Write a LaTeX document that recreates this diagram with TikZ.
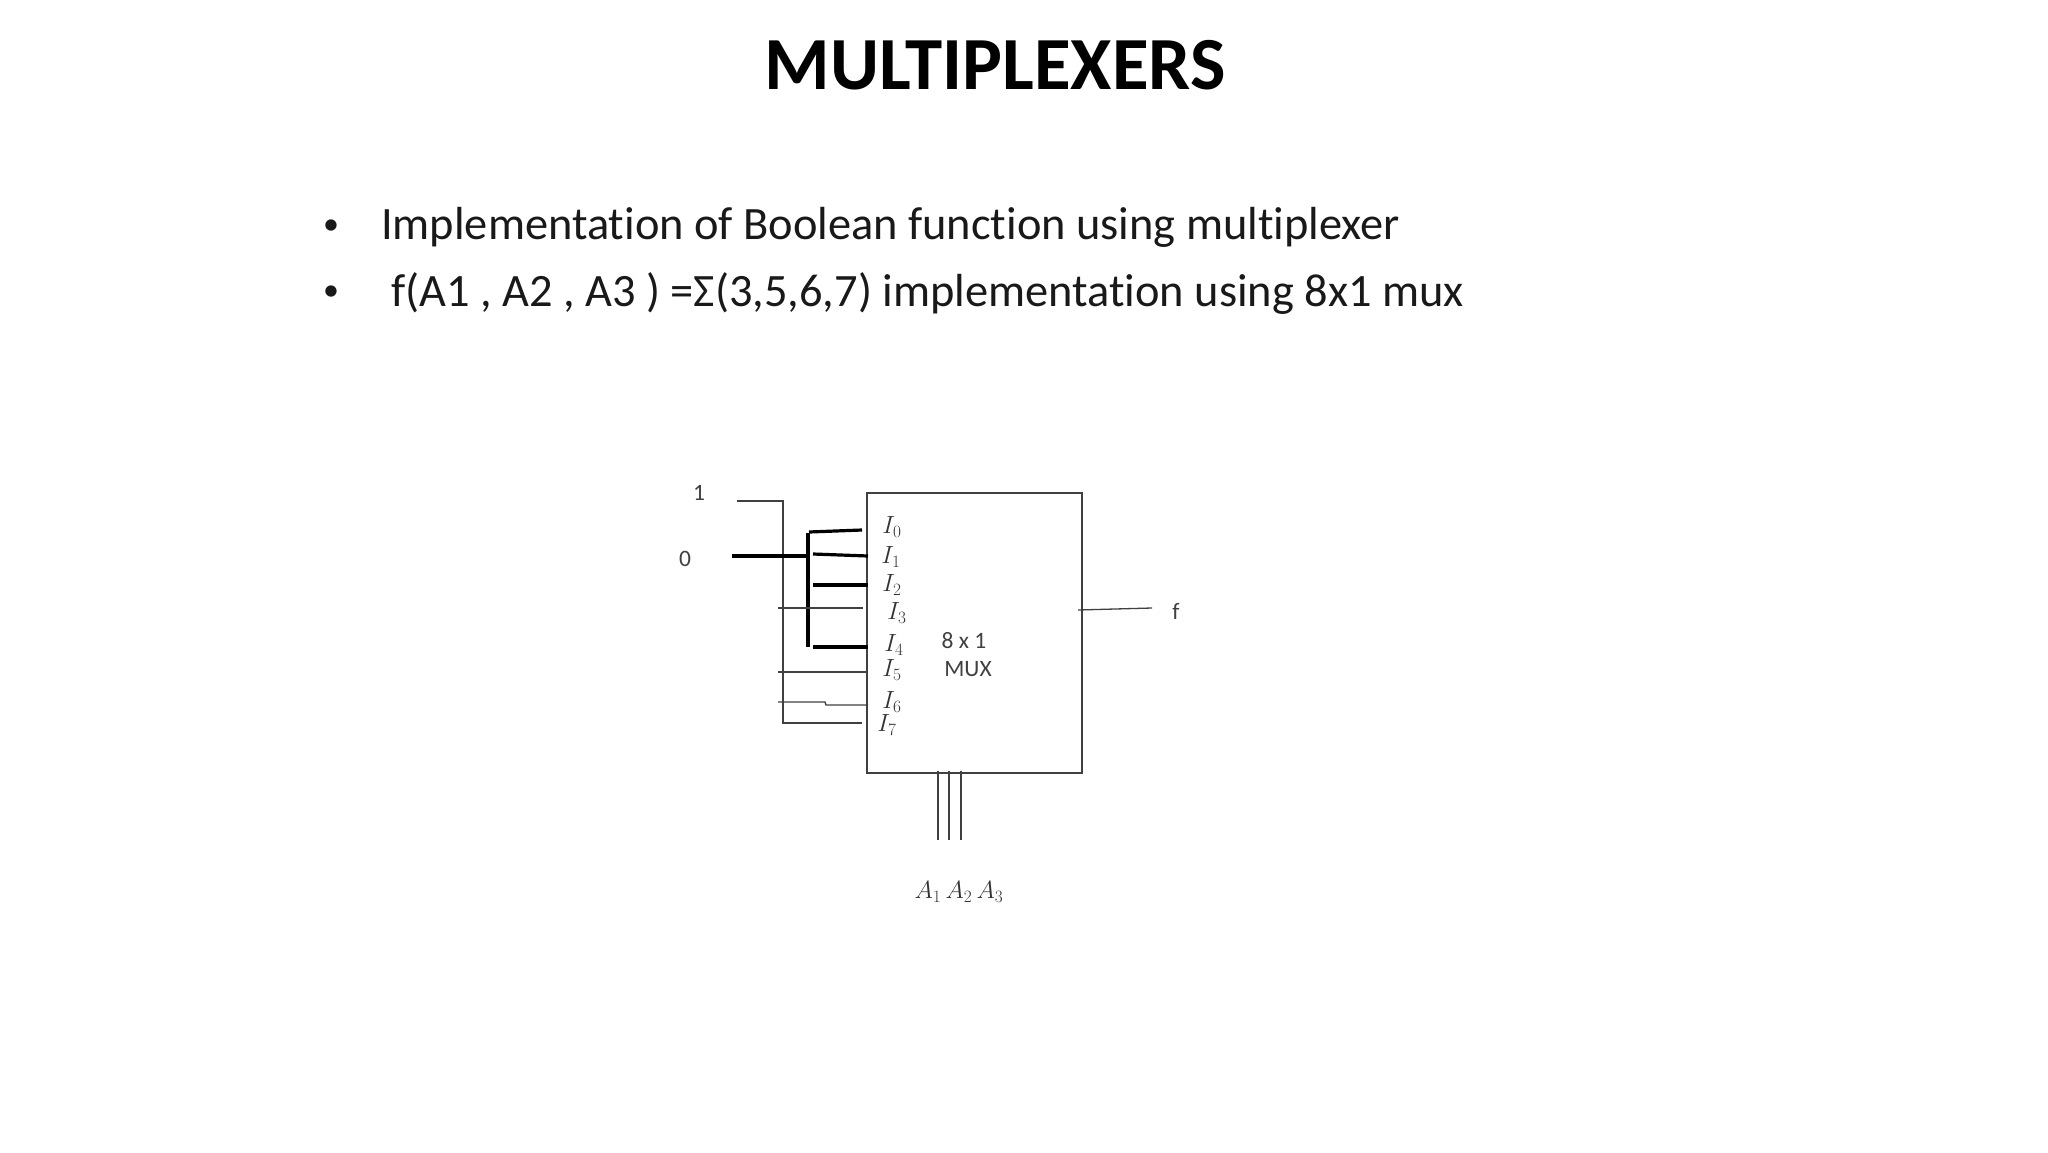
\documentclass[tikz,border=0pt]{standalone}
\usepackage{amsmath, amssymb}
\usepackage{fontspec}
\setmainfont[Ligatures=CommonOff]{Carlito}
\usetikzlibrary{positioning}

\begin{document}
\begin{tikzpicture}[x=1pt, y=-1pt, inner sep=0pt,
    wire/.style={draw=black!75, line width=1.3pt},
    buswire/.style={draw=black, line width=3.2pt},
    bodytext/.style={anchor=base west, font=\fontsize{46.4}{50}\selectfont, text=black!90},
    bullettext/.style={anchor=base west, font=\fontsize{32}{36}\selectfont, text=black!90},
    smalltext/.style={font=\fontsize{23.5}{28}\selectfont, text=black!75},
    pinlabel/.style={font=\fontsize{25}{30}\selectfont, text=black!80}]
    \useasboundingbox (0,0) rectangle (2048,1152);

    \node[anchor=base, font=\fontsize{75}{90}\bfseries\selectfont] (title) at (995,89) {MULTIPLEXERS};

    \node[bullettext] (bulA) at (323,234) {•};
    \node[bullettext] (bulB) at (323,300) {•};
    \node[bodytext] (lineA) at (381,239) {Implementation of Boolean function using multiplexer};
    \node[bodytext] (lineB) at (391,306) {f(A1 , A2 , A3 ) =Σ(3,5,6,7) implementation using 8x1 mux};

    % mux box
    \node[draw=black!75, line width=1.8pt, minimum width=215pt, minimum height=280pt] (mux) at (974.5,633) {};
    \node[smalltext] (muxA) at (964,641) {8 x 1};
    \node[smalltext] (muxB) at (968,669) {MUX};

    % input pins
    \foreach \n/\px/\py in {0/892/527, 1/891/557, 2/892/585, 3/897/613, 4/894/645, 5/892/670, 6/892/702, 7/887/725}
        \node[pinlabel] (I\n) at (\px,\py) {$I_\n$};

    \node[smalltext] (one) at (699,493) {1};
    \node[smalltext] (zero) at (685,559) {0};

    \coordinate (oneS) at (737,501);
    \coordinate (oneT) at (783,501);
    \coordinate (oneB) at (783,723);
    \coordinate (pinG) at (862,723);
    \draw[wire] (oneS) -- (oneT) -- (oneB) -- (pinG);

    \coordinate (zeroS) at (732,556);
    \coordinate (zeroJ) at (808,556);
    \coordinate (busT) at (808,533);
    \coordinate (busB) at (808,647);
    \draw[buswire] (zeroS) -- (zeroJ);
    \draw[buswire] (busT) -- (busB);

    % tied to 0
    \coordinate (aS) at (809,532);
    \coordinate (aE) at (862,530);
    \coordinate (bS) at (813,554);
    \coordinate (bE) at (868,556);
    \coordinate (cS) at (813,585);
    \coordinate (cE) at (868,585);
    \coordinate (dS) at (813,647);
    \coordinate (dE) at (868,647);
    \draw[buswire] (aS) -- (aE);
    \draw[buswire] (bS) -- (bE);
    \draw[buswire] (cS) -- (cE);
    \draw[buswire] (dS) -- (dE);

    % tied to 1
    \coordinate (eS) at (778,608);
    \coordinate (eE) at (863,608);
    \coordinate (fS) at (778,672);
    \coordinate (fE) at (868,672);
    \coordinate (gS) at (778,702);
    \coordinate (gM) at (825,702);
    \coordinate (gN) at (826,705);
    \coordinate (gE) at (868,705);
    \draw[wire] (eS) -- (eE);
    \draw[wire] (fS) -- (fE);
    \draw[wire] (gS) -- (gM) -- (gN) -- (gE);

    % output
    \coordinate (outS) at (1078,610);
    \coordinate (outE) at (1152,608);
    \node[smalltext] (out) at (1176,611) {f};
    \draw[wire] (outS) -- (outE);

    % select lines
    \foreach \n/\px/\lx in {1/938/928, 2/949/959, 3/961/990} {
        \coordinate (selT\n) at (\px,771);
        \coordinate (selB\n) at (\px,840);
        \draw[wire] (selT\n) -- (selB\n);
        \node[pinlabel] (A\n) at (\lx,892) {$A_\n$};
    }
\end{tikzpicture}
\end{document}
